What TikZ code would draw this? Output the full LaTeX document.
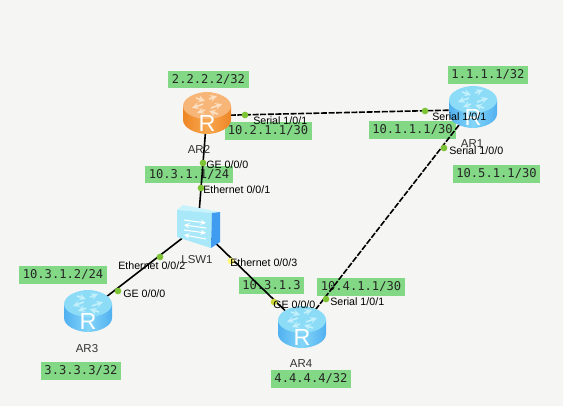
\documentclass[tikz,border=0pt]{standalone}
\usepackage{fontspec}
\setmainfont{Liberation Sans}
\newfontfamily\addrfont{DejaVu Sans Mono}
\definecolor{bgc}{HTML}{F5F5F3}
\definecolor{addrc}{HTML}{82D884}
\definecolor{dotc}{HTML}{7DC435}
\definecolor{orgdark}{HTML}{EE8626}
\definecolor{orgmid}{HTML}{F8A850}
\definecolor{orgtop}{HTML}{F7B578}
\definecolor{orgarrow}{HTML}{FBE0C4}
\definecolor{bludark}{HTML}{50B0F0}
\definecolor{blumid}{HTML}{84D6F8}
\definecolor{blutop}{HTML}{8CDCF8}
\definecolor{bluarrow}{HTML}{C4F0FB}
\definecolor{swfront}{HTML}{A8E8F8}
\definecolor{swtop}{HTML}{C8F3FC}
\definecolor{swside}{HTML}{3F9CF0}
\tikzset{
 x=0.75pt,y=-0.75pt,
 addr/.style={fill=addrc,font=\addrfont\fontsize{9.1}{10}\selectfont,inner sep=0pt,minimum height=13pt,text=black!85},
 iface/.style={font=\fontsize{8}{9}\selectfont,inner sep=0pt,anchor=west,text=black},
 devname/.style={font=\fontsize{8.6}{10}\selectfont,inner sep=0pt,text=black!80},
 ifdot/.style={circle,fill=dotc,inner sep=0pt,minimum size=5pt},
 solidlink/.style={line width=1.2pt,black},
 seriallink/.style={line width=1.2pt,black,dash pattern=on 4.5pt off 1.2pt},
 device/.style={inner sep=0pt,minimum width=36pt,minimum height=32pt},
}
% #1 device node, #2 dark, #3 light, #4 top, #5 arrows
\newcommand{\routerpic}[5]{%
 \begin{scope}[shift={(#1.center)}]
  \shade[left color=#2,right color=#2,middle color=#3]
   (-24,-7) -- (-24,7) .. controls (-24,15) and (-11,21) .. (0,21)
   .. controls (11,21) and (24,15) .. (24,7) -- (24,-7) -- cycle;
  \fill[#4] (-24,-7) .. controls (-24,-15) and (-11,-21) .. (0,-21)
   .. controls (11,-21) and (24,-15) .. (24,-7)
   .. controls (24,1) and (11,6) .. (0,6)
   .. controls (-11,6) and (-24,1) .. (-24,-7) -- cycle;
  \begin{scope}[#5,line width=1.2pt,->,>=stealth]
   \draw (-4,-9) -- (-15,-5);
   \draw (4,-5) -- (15,-9);
   \draw (-11,-15) -- (-2,-12);
   \draw (11,1) -- (2,-2);
   \draw (2,-14) -- (10,-17);
   \draw (-2,-3) -- (-10,0);
  \end{scope}
  \node[text=white,font=\fontsize{17.5}{18}\selectfont,inner sep=0pt] at (0,10) {R};
 \end{scope}}
\begin{document}
\begin{tikzpicture}
\useasboundingbox (0,0) rectangle (563,406);
\fill[bgc] (0,0) rectangle (563,406);
% address labels
\node[addr,minimum width=60.75pt] (a22) at (208.5,79.5) {2.2.2.2/32};
\node[addr,minimum width=65.25pt] (a21) at (268,131) {10.2.1.1/30};
\node[addr,minimum width=66pt] (a31) at (189,174.5) {10.3.1.1/24};
\node[addr,minimum width=60pt] (a11) at (488,75) {1.1.1.1/32};
\node[addr,minimum width=65.25pt] (a101) at (412.5,130) {10.1.1.1/30};
\node[addr,minimum width=65.25pt] (a105) at (496.5,174) {10.5.1.1/30};
\node[addr,minimum width=66pt] (a312) at (63,275) {10.3.1.2/24};
\node[addr,minimum width=60pt] (a33) at (81,371) {3.3.3.3/32};
\node[addr,minimum width=48.75pt] (a313) at (271.5,285.5) {10.3.1.3};
\node[addr,minimum width=66pt] (a41) at (361,287) {10.4.1.1/30};
\node[addr,minimum width=60pt] (a44) at (311,379) {4.4.4.4/32};
% devices
\node[device] (ar2) at (207,113) {};
\node[device] (ar1) at (473,107) {};
\node[device] (ar3) at (88,311) {};
\node[device] (ar4) at (302,327) {};
\node[device,minimum width=32pt] (lsw) at (198,226) {};
% links
\draw[seriallink] ([yshift=-2pt]ar2.center) -- ([yshift=-2pt]ar1.center);
\draw[seriallink] (ar1.center) -- (ar4.center);
\draw[solidlink] (ar2.center) -- (lsw.center);
\draw[solidlink] (lsw.center) -- (ar3.center);
\draw[solidlink] (lsw.center) -- (ar4.center);
% icons
\routerpic{ar2}{orgdark}{orgmid}{orgtop}{orgarrow}
\routerpic{ar1}{bludark}{blumid}{blutop}{bluarrow}
\routerpic{ar3}{bludark}{blumid}{blutop}{bluarrow}
\routerpic{ar4}{bludark}{blumid}{blutop}{bluarrow}
\begin{scope}[shift={(lsw.center)}]
 \fill[swtop] (-21,-16) -- (-15,-21) -- (22,-14) -- (14,-13) -- cycle;
 \fill[swfront] (-21,-16) -- (14,-13) -- (13,22) -- (-21,11) -- cycle;
 \fill[swside] (14,-13) -- (22,-14) -- (22,16) -- (13,22) -- cycle;
 \begin{scope}[white,line width=0.8pt,->,>=stealth]
  \draw (-14,-6) -- (8,-3);
  \draw (8,2) -- (-14,-1);
  \draw (-14,4) -- (8,7);
  \draw (8,13) -- (-14,9);
 \end{scope}
\end{scope}
% interface dots
\node[ifdot] (d1) at (245,115) {};
\node[ifdot] (d2) at (425,111) {};
\node[ifdot] (d3) at (444,148) {};
\node[ifdot] (d4) at (326,299) {};
\node[ifdot] (d5) at (203,163) {};
\node[ifdot] (d6) at (201,188) {};
\node[ifdot] (d7) at (160,257) {};
\node[ifdot] (d8) at (118,291) {};
\node[ifdot,fill=yellow!55!white] (d9) at (231,261) {};
\node[ifdot,fill=yellow!55!dotc] (d10) at (274,302) {};
% interface labels
\node[iface] (t1) at (253,121) {Serial 1/0/1};
\node[iface] (t2) at (206,165) {GE 0/0/0};
\node[iface] (t3) at (203,189.5) {Ethernet 0/0/1};
\node[iface] (t4) at (432,117) {Serial 1/0/1};
\node[iface] (t5) at (449,151) {Serial 1/0/0};
\node[iface] (t6) at (118,266) {Ethernet 0/0/2};
\node[iface] (t7) at (123,294) {GE 0/0/0};
\node[iface] (t8) at (230,263) {Ethernet 0/0/3};
\node[iface] (t9) at (273,305) {GE 0/0/0};
\node[iface] (t10) at (330,302) {Serial 1/0/1};
% device names
\node[devname] (n2) at (199,149) {AR2};
\node[devname] (n1) at (472,144) {AR1};
\node[devname] (n3) at (87,349) {AR3};
\node[devname] (n4) at (301,364) {AR4};
\node[devname] (n5) at (197,260) {LSW1};
\end{tikzpicture}
\end{document}
